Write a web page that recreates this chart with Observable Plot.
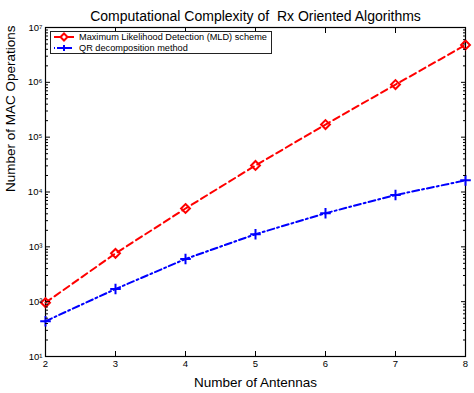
<!DOCTYPE html>
<html>
<head>
<meta charset="utf-8">
<script src="https://cdn.jsdelivr.net/npm/d3@7"></script>
<script src="https://cdn.jsdelivr.net/npm/@observablehq/plot@0.6"></script>
<style>
  html, body { margin: 0; padding: 0; background: #fff; }
  #wrap { position: relative; width: 474px; height: 393px; font-family: "Liberation Sans", Arial, sans-serif; }
  #legend { position: absolute; left: 50px; top: 31px; width: 220px; height: 21px; border: 1px solid #222; background: #fff; font-size: 9.2px; }
  .row { position: absolute; left: 0; height: 10px; display: flex; align-items: center; white-space: nowrap; }
  .row svg { margin-left: 2px; margin-right: 4px; flex: none; }
</style>
</head>
<body>
<div id="wrap"></div>
<script>
const antennas = [2, 3, 4, 5, 6, 7, 8];
const mld = [96, 760, 5000, 30500, 170000, 910000, 4800000];
const qr = [44, 170, 600, 1700, 4100, 8800, 16300];
const seriesNames = ["Maximum Likelihood Detection (MLD) scheme", "QR decomposition method"];
const yMajor = [1e1, 1e2, 1e3, 1e4, 1e5, 1e6, 1e7];
const xTicks = [2, 3, 4, 5, 6, 7, 8];
const title = "Computational Complexity of  Rx Oriented Algorithms";
const xLabel = "Number of Antennas";
const yLabel = "Number of MAC Operations";

const sup = {"0":"⁰","1":"¹","2":"²","3":"³","4":"⁴","5":"⁵","6":"⁶","7":"⁷","8":"⁸","9":"⁹"};
const fmt = d => "10" + String(Math.round(Math.log10(d))).split("").map(c => sup[c]).join("");
const yMinor = [];
for (let e = 1; e < 7; e++) for (let m = 2; m <= 9; m++) yMinor.push(m * 10 ** e);

const rows = [];
antennas.forEach((a, i) => {
  rows.push({x: a, y: mld[i], s: seriesNames[0]});
  rows.push({x: a, y: qr[i], s: seriesNames[1]});
});
const red = rows.filter(d => d.s === seriesNames[0]);
const blue = rows.filter(d => d.s === seriesNames[1]);

const plot = Plot.plot({
  width: 474, height: 393,
  marginLeft: 45, marginRight: 9, marginTop: 27, marginBottom: 37,
  style: {fontFamily: "Liberation Sans, Arial, sans-serif", fontSize: "9px", color: "#000", background: "#fff"},
  x: {domain: [2, 8]},
  y: {type: "log", domain: [10, 1e7]},
  marks: [
    Plot.frame({stroke: "#000", strokeWidth: 1.2}),
    Plot.line(red, {x: "x", y: "y", stroke: "#ff0000", strokeWidth: 2, strokeDasharray: "7,4"}),
    Plot.line(blue, {x: "x", y: "y", stroke: "#0000ff", strokeWidth: 2, strokeDasharray: "7,3,2,3"}),
    Plot.dot(red, {x: "x", y: "y", symbol: "diamond2", r: 4, stroke: "#ff0000", strokeWidth: 2, fill: "none"}),
    Plot.dot(blue, {x: "x", y: "y", symbol: "plus", r: 3.5, stroke: "#0000ff", strokeWidth: 2}),
    Plot.axisY(yMajor, {anchor: "left", tickSize: -5, tickPadding: 8, tickFormat: fmt, label: null, fontSize: 9.5}),
    Plot.axisY(yMajor, {anchor: "right", tickSize: -5, tickFormat: () => "", label: null}),
    Plot.axisY(yMinor, {anchor: "left", tickSize: -3, tickFormat: () => "", label: null}),
    Plot.axisY(yMinor, {anchor: "right", tickSize: -3, tickFormat: () => "", label: null}),
    Plot.axisX(xTicks, {anchor: "bottom", tickSize: -5, tickPadding: 9, label: null, fontSize: 9.5}),
    Plot.axisX(xTicks, {anchor: "top", tickSize: -5, tickFormat: () => "", label: null}),
    Plot.text([title], {frameAnchor: "top", dy: -7, lineAnchor: "bottom", fontSize: 14}),
    Plot.text([xLabel], {frameAnchor: "bottom", dy: 26, lineAnchor: "middle", fontSize: 13.5}),
    Plot.text([yLabel], {frameAnchor: "left", dx: -35, rotate: -90, lineAnchor: "middle", fontSize: 13.5})
  ]
});
const wrap = document.getElementById("wrap");
wrap.appendChild(plot);

const legend = document.createElement("div");
legend.id = "legend";
const samples = [
  `<svg width="22" height="10"><line x1="1" y1="5" x2="21" y2="5" stroke="#ff0000" stroke-width="2"/><path d="M11,1.5L14.5,5L11,8.5L7.5,5Z" fill="#fff" stroke="#ff0000" stroke-width="2"/></svg>`,
  `<svg width="22" height="10"><line x1="1" y1="5" x2="21" y2="5" stroke="#0000ff" stroke-width="2" stroke-dasharray="1,2,5,2"/><path d="M8,5H14M11,2V8" stroke="#0000ff" stroke-width="2"/></svg>`
];
seriesNames.forEach((n, i) => {
  const r = document.createElement("div");
  r.className = "row";
  r.style.top = (i * 10.5) + "px";
  r.innerHTML = samples[i] + `<span>${n}</span>`;
  legend.appendChild(r);
});
wrap.appendChild(legend);
</script>
</body>
</html>
